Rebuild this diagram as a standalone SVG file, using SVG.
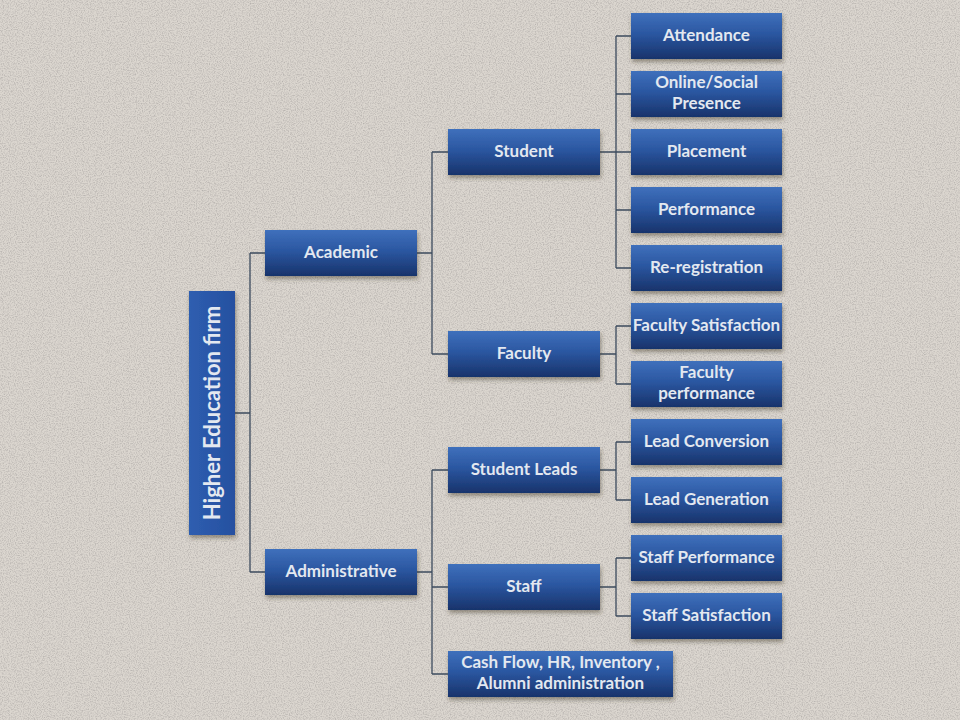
<svg xmlns="http://www.w3.org/2000/svg" width="960" height="720" viewBox="0 0 960 720">
<defs>
<linearGradient id="boxg" x1="0" y1="0" x2="0" y2="1">
<stop offset="0" stop-color="#3f70bc"/>
<stop offset="0.45" stop-color="#2b57a1"/>
<stop offset="1" stop-color="#18336b"/>
</linearGradient>
<linearGradient id="rootg" x1="0" y1="0" x2="1" y2="0">
<stop offset="0" stop-color="#2f5eb0"/>
<stop offset="1" stop-color="#2550a0"/>
</linearGradient>
<filter id="noise" x="0" y="0" width="100%" height="100%">
<feTurbulence type="fractalNoise" baseFrequency="0.85" numOctaves="2" seed="3" result="t"/>
<feColorMatrix type="matrix" values="0 0 0 0 0.42  0 0 0 0 0.40  0 0 0 0 0.38  0 0 0 -2 1.2"/>
</filter>
<filter id="sh" x="-10%" y="-10%" width="120%" height="140%">
<feDropShadow dx="1" dy="3" stdDeviation="2" flood-color="#3a3028" flood-opacity="0.45"/>
</filter>
</defs>
<style>
.box{fill:url(#boxg);filter:url(#sh)}
.root{fill:url(#rootg);filter:url(#sh)}
.t{font-family:Lato,"Open Sans","Liberation Sans",sans-serif;font-weight:bold;font-size:17px;fill:#e3e8f0;text-anchor:middle}
.c{fill:none;stroke:#3c4b5e;stroke-width:1.3}
</style>
<rect width="960" height="720" fill="#dbd6cf"/>
<rect width="960" height="720" filter="url(#noise)" opacity="0.8"/>

<g id="connectors">
<path class="c" d="M235 413H250M250 253V572M250 253H265M250 572H265"/>
<path class="c" d="M417 253H432M432 152V354M432 152H448M432 354H448"/>
<path class="c" d="M417 572H432M432 470V674M432 470H448M432 587H448M432 674H448"/>
<path class="c" d="M600 152H616M616 36V268M616 36H631M616 94H631M616 152H631M616 210H631M616 268H631"/>
<path class="c" d="M600 354H616M616 326V384M616 326H631M616 384H631"/>
<path class="c" d="M600 470H616M616 442V500M616 442H631M616 500H631"/>
<path class="c" d="M600 587H616M616 558V616M616 558H631M616 616H631"/>
</g>

<g id="root"><rect class="root" x="189" y="291" width="46" height="244"/>
<text class="t" style="font-size:22px" transform="translate(220 413) rotate(-90)">Higher Education firm</text></g>

<g id="academic"><rect class="box" x="265" y="230" width="152" height="46"/><text class="t" x="341" y="258">Academic</text></g>
<g id="administrative"><rect class="box" x="265" y="549" width="152" height="46"/><text class="t" x="341" y="577">Administrative</text></g>

<g id="student"><rect class="box" x="448" y="129" width="152" height="46"/><text class="t" x="524" y="157">Student</text></g>
<g id="faculty"><rect class="box" x="448" y="331" width="152" height="46"/><text class="t" x="524" y="359">Faculty</text></g>
<g id="studentleads"><rect class="box" x="448" y="447" width="152" height="46"/><text class="t" x="524" y="475">Student Leads</text></g>
<g id="staff"><rect class="box" x="448" y="564" width="152" height="46"/><text class="t" x="524" y="592">Staff</text></g>
<g id="cashflow"><rect class="box" x="448" y="651" width="225" height="46"/><text class="t" x="560.5" y="668">Cash Flow, HR, Inventory ,</text><text class="t" x="560.5" y="689">Alumni administration</text></g>

<g id="attendance"><rect class="box" x="631" y="13" width="151" height="46"/><text class="t" x="706.5" y="41">Attendance</text></g>
<g id="online"><rect class="box" x="631" y="71" width="151" height="46"/><text class="t" x="706.5" y="88">Online/Social</text><text class="t" x="706.5" y="109">Presence</text></g>
<g id="placement"><rect class="box" x="631" y="129" width="151" height="46"/><text class="t" x="706.5" y="157">Placement</text></g>
<g id="performance"><rect class="box" x="631" y="187" width="151" height="46"/><text class="t" x="706.5" y="215">Performance</text></g>
<g id="reregistration"><rect class="box" x="631" y="245" width="151" height="46"/><text class="t" x="706.5" y="273">Re-registration</text></g>
<g id="facultysatisfaction"><rect class="box" x="631" y="303" width="151" height="46"/><text class="t" x="706.5" y="331">Faculty Satisfaction</text></g>
<g id="facultyperformance"><rect class="box" x="631" y="361" width="151" height="46"/><text class="t" x="706.5" y="378">Faculty</text><text class="t" x="706.5" y="399">performance</text></g>
<g id="leadconversion"><rect class="box" x="631" y="419" width="151" height="46"/><text class="t" x="706.5" y="447">Lead Conversion</text></g>
<g id="leadgeneration"><rect class="box" x="631" y="477" width="151" height="46"/><text class="t" x="706.5" y="505">Lead Generation</text></g>
<g id="staffperformance"><rect class="box" x="631" y="535" width="151" height="46"/><text class="t" x="706.5" y="563">Staff Performance</text></g>
<g id="staffsatisfaction"><rect class="box" x="631" y="593" width="151" height="46"/><text class="t" x="706.5" y="621">Staff Satisfaction</text></g>
</svg>
